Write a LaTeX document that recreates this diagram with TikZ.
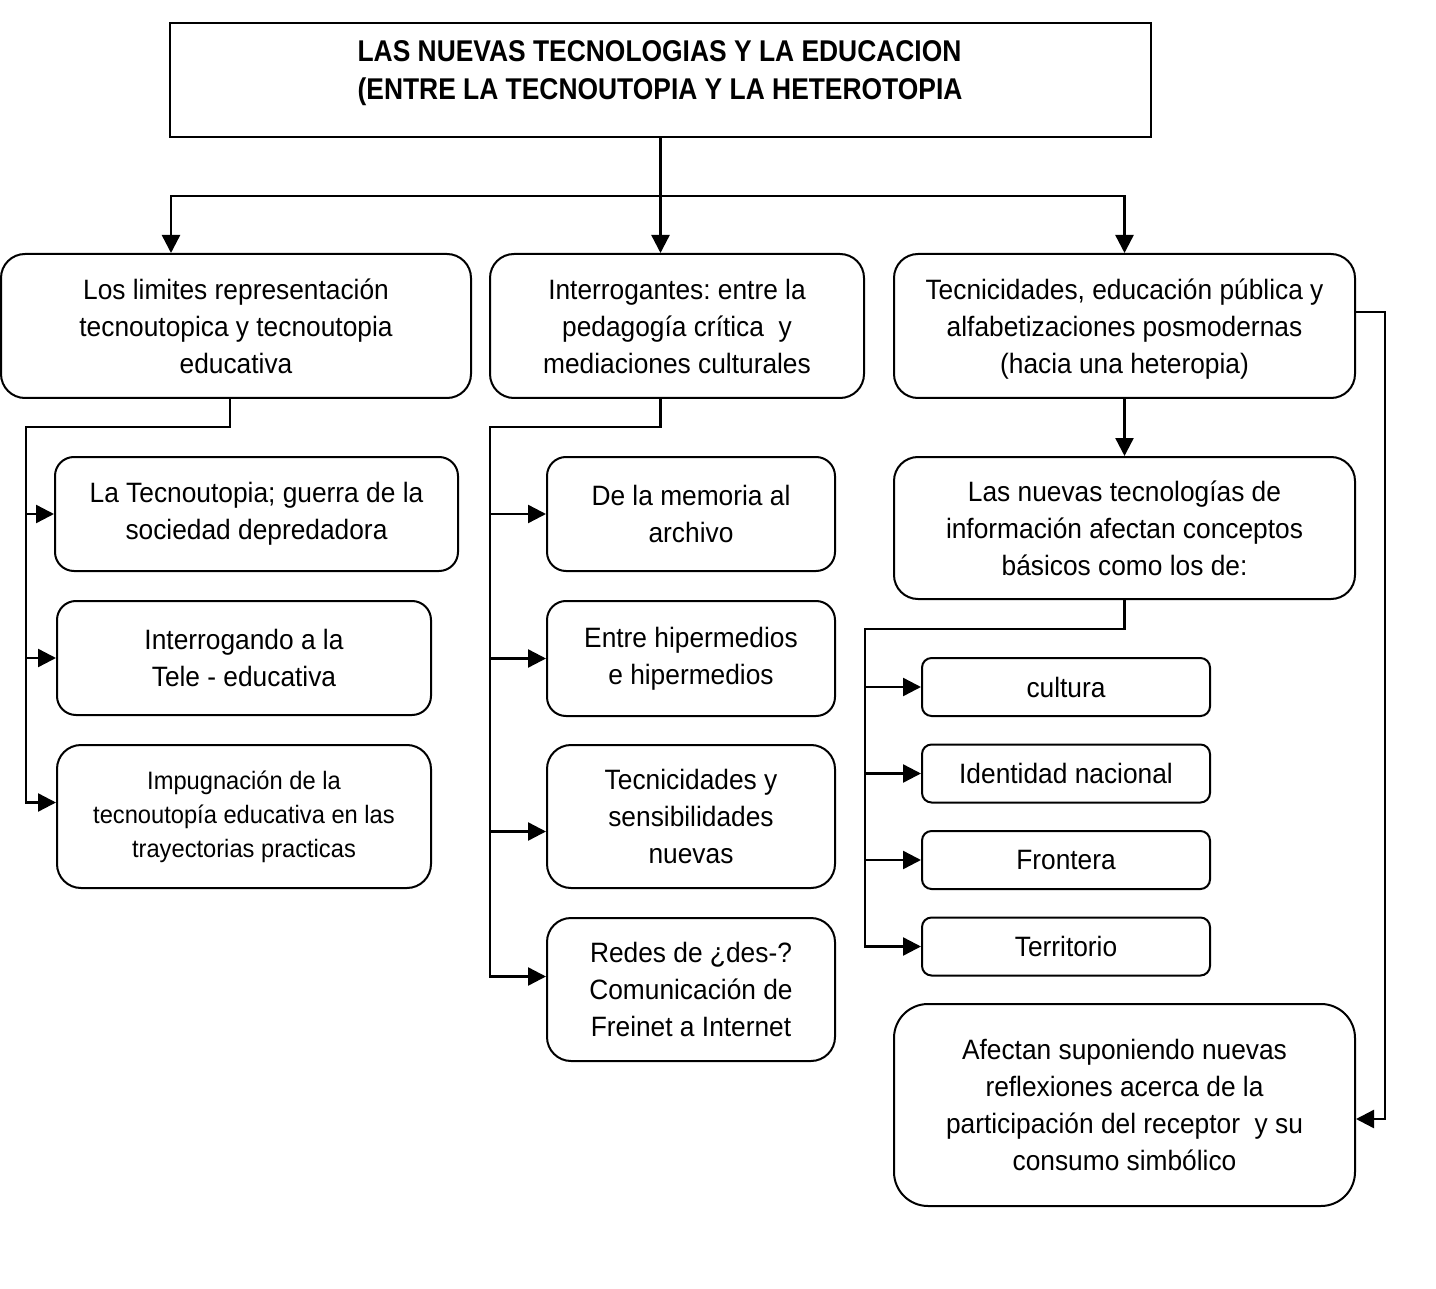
\documentclass[tikz,border=0pt]{standalone}
\usepackage{fontspec}
\setmainfont[FakeStretch=0.94]{Liberation Sans}
\newfontfamily\titlefont[FakeStretch=0.88]{Liberation Sans}
\usetikzlibrary{arrows.meta,calc}
\frenchspacing

\begin{document}
\begin{tikzpicture}[x=0.5pt,y=-0.5pt,
	box/.style={draw,line width=1pt,rounded corners=12pt,align=center,inner sep=0pt,font=\fontsize{14pt}{18.5pt}\selectfont},
	tag/.style={box,rounded corners=4.8pt,minimum width=144pt,minimum height=29pt},
	arr/.style={line width=1.2pt,-{Triangle[length=9pt,width=9pt]}}]
	\useasboundingbox (0,0) rectangle (1436,1289);

	\node[draw,line width=1pt,minimum width=490.5pt,minimum height=57pt] (t) at (660.5,80) {};
	\node[align=left,font=\titlefont\bfseries\fontsize{15pt}{19pt}\selectfont] (tt) at (660,73) {LAS NUEVAS TECNOLOGIAS Y LA EDUCACION\\(ENTRE LA TECNOUTOPIA Y LA HETEROTOPIA};

	\node[box,minimum width=235pt,minimum height=72pt] (a) at (236,326) {Los limites representación\\tecnoutopica y tecnoutopia\\educativa};
	\node[box,minimum width=187pt,minimum height=72pt] (b) at (677,326) {Interrogantes: entre la\\pedagogía crítica~ y\\mediaciones culturales};
	\node[box,minimum width=230.5pt,minimum height=72pt,text depth=-3pt] (c) at (1124.5,326) {Tecnicidades, educación pública y\\alfabetizaciones posmodernas\\(hacia una heteropia)};

	\node[box,rounded corners=9.5pt,minimum width=201.5pt,minimum height=57pt] (a1) at (256.5,514) {La Tecnoutopia; guerra de la\\sociedad depredadora};
	\node[box,rounded corners=9.5pt,minimum width=187pt,minimum height=57pt] (a2) at (244,658) {Interrogando a la\\Tele - educativa};
	\node[box,minimum width=187pt,minimum height=71.5pt,font=\fontsize{12.6pt}{17pt}\selectfont] (a3) at (244,816.5) {Impugnación de la\\tecnoutopía educativa en las\\trayectorias practicas};

	\node[box,rounded corners=9.5pt,minimum width=144pt,minimum height=57pt] (b1) at (691,514) {De la memoria al\\archivo};
	\node[box,rounded corners=9.5pt,minimum width=144pt,minimum height=57.5pt] (b2) at (691,658.5) {Entre hipermedios\\e hipermedios};
	\node[box,minimum width=144pt,minimum height=71.5pt] (b3) at (691,816.5) {Tecnicidades y\\sensibilidades\\nuevas};
	\node[box,minimum width=144pt,minimum height=71.5pt] (b4) at (691,989.5) {Redes de ¿des-?\\Comunicación de\\Freinet a Internet};

	\node[box,minimum width=230.5pt,minimum height=71pt] (d) at (1124.5,528) {Las nuevas tecnologías de\\información afectan conceptos\\básicos como los de:};
	\node[tag] (e1) at (1066,687) {cultura};
	\node[tag] (e2) at (1066,773.5) {Identidad nacional};
	\node[tag] (e3) at (1066,860) {Frontera};
	\node[tag] (e4) at (1066,946.5) {Territorio};
	\node[box,rounded corners=17pt,minimum width=230.5pt,minimum height=101pt] (f) at (1124.5,1105) {Afectan suponiendo nuevas\\reflexiones acerca de la\\participación del receptor~ y su\\consumo simbólico};

	% rails
	\coordinate (bus) at (662,196);
	\coordinate (ra) at (26,427);
	\coordinate (rb) at (490,427);
	\coordinate (rd) at (865,629);
	\coordinate (rc) at (1385,312);

	\draw[line width=1.2pt] (t.south) -- (t.south |- bus);
	\draw[arr] (t.south |- bus) -- (t.south |- b.north);
	\draw[arr] (t.south |- bus) -| ($(a.north west)+(171,0)$);
	\draw[arr] (t.south |- bus) -| (c.north);

	\draw[arr] ($(a.south)+(-6,0)$) |- (ra) |- ([yshift=7pt]a3.west);
	\draw[arr] (ra |- a1.west) -- (a1.west);
	\draw[arr] (ra |- a2.west) -- (a2.west);

	\draw[arr] (t.south |- b.south) |- (rb) |- ([yshift=6.5pt]b4.west);
	\draw[arr] (rb |- b1.west) -- (b1.west);
	\draw[arr] (rb |- b2.west) -- (b2.west);
	\draw[arr] ($(rb |- b3.west)+(0,15)$) -- ([yshift=-7.5pt]b3.west);

	\draw[arr] (c) -- (d);
	\draw[arr] (d.south) |- (rd) |- (e4.west);
	\draw[arr] (rd |- e1.west) -- (e1.west);
	\draw[arr] (rd |- e2.west) -- (e2.west);
	\draw[arr] (rd |- e3.west) -- (e3.west);

	\draw[arr] ([yshift=7pt]c.east) -- (rc) |- ([yshift=-7pt]f.east);
\end{tikzpicture}
\end{document}
